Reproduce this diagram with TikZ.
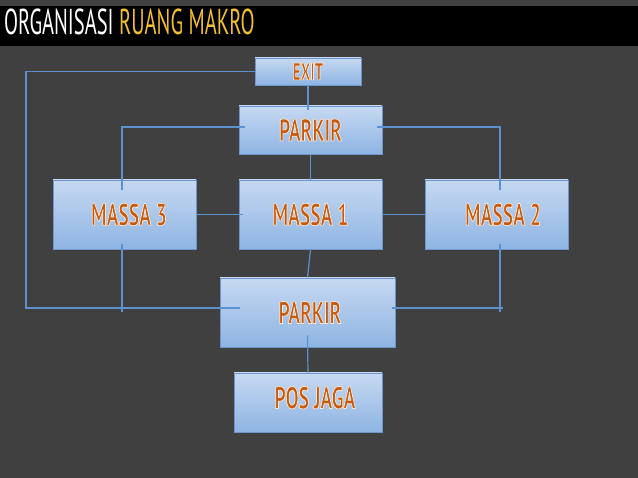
\documentclass[tikz,border=0pt]{standalone}
\usepackage{fontspec}
\usetikzlibrary{calc}
\newfontfamily\titlefont[FakeStretch=0.57]{PT Sans}
\newfontfamily\boxfont[FakeStretch=0.63]{PT Sans}
\definecolor{slategray}{RGB}{64,64,64}
\definecolor{boxtop}{RGB}{198,217,241}
\definecolor{boxbot}{RGB}{142,180,227}
\definecolor{boxedge}{RGB}{110,150,205}
\definecolor{linkblue}{RGB}{91,145,205}
\definecolor{labelorange}{RGB}{197,90,17}
\definecolor{titlegold}{RGB}{240,190,50}
% orange letters with a light rim (fill, then stroke)
\newcommand{\blocklabel}[1]{\textcolor{labelorange}{\special{pdf:literal direct 2 Tr 0.7 w 1 j 0.99 0.91 0.83 RG}#1\special{pdf:literal direct 0 Tr}}}

\begin{document}
\begin{tikzpicture}[x=1pt, y=1pt,
	block/.style = {draw = boxedge, line width = 0.8pt, top color = boxtop, bottom color = boxbot, inner sep = 0pt, font = \boxfont\bfseries\fontsize{31}{31}\selectfont},
	link/.style = {draw = linkblue, line width = 1.2pt}]
			\useasboundingbox (0,0) rectangle (638,478);
			\fill[slategray] (0,0) rectangle (638,478);
			\fill[black] (0,432) rectangle (638,472);
			\node (title) at (4,443) [anchor = base west, inner sep = 0pt, text = white, font = \titlefont\fontsize{36}{36}\selectfont] {ORGANISASI \textcolor{titlegold}{RUANG MAKRO}};
			\node (exit) at (308,406.5) [block, minimum width = 106, minimum height = 27, font = \boxfont\bfseries\fontsize{24}{24}\selectfont] {\blocklabel{EXIT}};
			\node (parkA) at (310.5,348) [block, minimum width = 143, minimum height = 48] {\blocklabel{PARKIR}};
			\node (massa3) at (124.5,263.5) [block, minimum width = 143, minimum height = 69] {\hspace{9pt}\blocklabel{MASSA 3}};
			\node (massa1) at (310.5,263.5) [block, minimum width = 143, minimum height = 69] {\blocklabel{MASSA 1}};
			\node (massa2) at (496.5,263.5) [block, minimum width = 143, minimum height = 69] {\hspace{13pt}\blocklabel{MASSA 2}};
			\node (parkB) at (307.5,165.5) [block, minimum width = 175, minimum height = 69] {\hspace{5pt}\blocklabel{PARKIR}};
			\node (pos) at (308,75.5) [block, minimum width = 148, minimum height = 59] {\hspace{14pt}\raisebox{10pt}{\blocklabel{POS JAGA}}};
			\coordinate (loopS) at (26,170);
			% outer loop from exit round to the lower parking
			\draw[link] (exit.west) -| (loopS) -- ($(parkB.west |- loopS)+(20,0)$);
			\draw[link] ($(parkA.west)+(6,3)$) -| ($(massa3.north)+(-2.5,-10)$);
			\draw[link] ($(parkA.east)+(-5,3)$) -| ($(massa2.north)+(3.5,-10)$);
			\draw[link] (massa3.east) -- ($(massa1.west)+(4,0)$);
			\draw[link] (massa1.east) -- (massa2.west);
			\draw[link] (exit.south) -- ($(parkA.north)+(-2.5,-4)$);
			\draw[link] (parkA.south) -- (massa1.north);
			\draw[link] (massa1.south) -- (parkB.north);
			\draw[link] ($(parkB.south)+(0,12)$) -- (pos.north);
			\draw[link] ($(massa3.south)+(-2.5,5)$) -- ($(massa3.south |- loopS)+(-2.5,-4)$);
			\draw[link] ($(massa2.south)+(3.5,5)$) -- ($(massa2.south |- loopS)+(3.5,-4)$);
			\draw[link] ($(parkB.east |- loopS)+(-3,0)$) -- ($(massa2.south |- loopS)+(6.5,0)$);
\end{tikzpicture}
\end{document}
